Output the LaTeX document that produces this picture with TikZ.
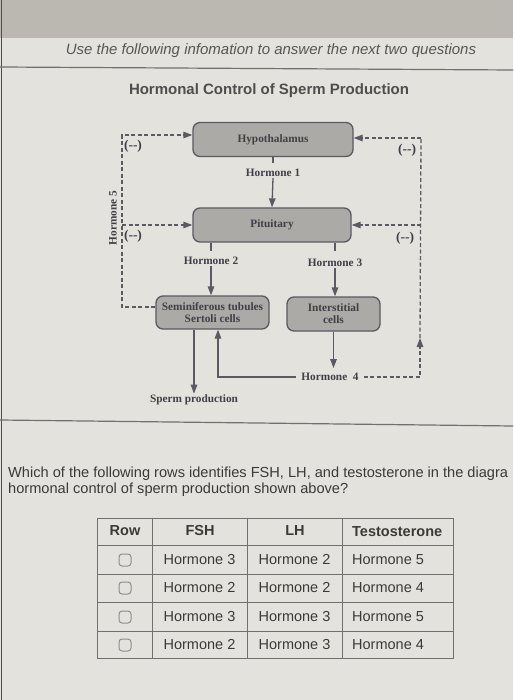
\documentclass[tikz,border=0pt]{standalone}
\usepackage{fontspec}
\setmainfont{Liberation Sans}
\newfontfamily\dfont{Liberation Serif}
\usetikzlibrary{positioning, arrows.meta}
\definecolor{bgc}{HTML}{E3E2DC}
\definecolor{topc}{HTML}{BAB8B0}
\definecolor{boxc}{HTML}{ABAAA6}
\definecolor{linec}{HTML}{5A5A62}
\definecolor{txtc}{HTML}{3F3F48}
\definecolor{inkc}{HTML}{3A3A3A}
\definecolor{gridc}{HTML}{707070}
\newcommand{\dsize}{\dfont\bfseries\fontsize{11.3}{12}\selectfont}
\newcommand{\ssize}{\fontsize{15}{16}\selectfont}
\newcommand{\tsize}{\fontsize{14.5}{16}\selectfont}
\tikzset{
  gbox/.style={draw=linec, fill=boxc, rounded corners=7pt, line width=1.3pt,
               align=center, font=\dsize, text=txtc, inner sep=2pt},
  hlbl/.style={font=\dsize, text=txtc, inner sep=1pt},
  mlbl/.style={hlbl, font=\dfont\bfseries\fontsize{13.5}{14}\selectfont},
  stub/.style={line width=1.3pt, draw=linec},
  arr/.style={-{Triangle[length=9pt,width=6.5pt]}, stub},
  fbk/.style={arr, dash pattern=on 4pt off 2.5pt},   % negative feedback
  fbkln/.style={stub, dash pattern=on 4pt off 2.5pt},
  cell/.style={font=\tsize, text=inkc, inner sep=0pt},
  chk/.style={draw=gridc!80, rounded corners=3pt, minimum size=12pt,
              line width=1pt, inner sep=0pt},
}

\begin{document}
\begin{tikzpicture}[x=1pt, y=-1pt]
  \useasboundingbox (0,0) rectangle (513,700);
  \fill[bgc] (0,0) rectangle (513,700);
  \fill[topc] (0,0) rectangle (513,38);
  \draw[gridc!70!black, line width=1.5pt] (1.5,0) -- (1.5,700);

  \node[font=\ssize\itshape, text=inkc!85] (intro) at (271,51)
    {Use the following infomation to answer the next two questions};
  \draw[gridc, line width=1.2pt] (0,67) -- (513,70);
  \node[font=\ssize\bfseries, text=inkc!90] (title) at (269,91)
    {Hormonal Control of Sperm Production};

  % glands
  \node[gbox, minimum width=160pt, minimum height=34pt] (hypo) at (273,139.5) {Hypothalamus};
  \node[gbox, minimum width=158pt, minimum height=34pt] (pit) at (272,225) {Pituitary};
  \node[gbox, minimum width=113pt, minimum height=33pt] (semi) at (212.5,312.5)
    {Seminiferous tubules\\Sertoli cells};
  \node[gbox, minimum width=93pt, minimum height=34pt] (inter) at (333.5,314)
    {Interstitial\\cells};

  % hormones
  \node[hlbl] (h1) at (273,173) {Hormone 1};
  \node[hlbl] (h2) at (211,261) {Hormone 2};
  \node[hlbl] (h3) at (335,263) {Hormone 3};
  \node[hlbl, inner sep=5pt] (h4) at (330,377) {Hormone\ \ 4};
  \node[hlbl, rotate=90] (h5) at (113,218) {Hormone 5};
  \node[hlbl] (sperm) at (194,400) {Sperm production};
  \node[mlbl] (m1) at (133,146) {(--)};
  \node[mlbl] (m2) at (133,236) {(--)};
  \node[mlbl] (m3) at (407,150) {(--)};
  \node[mlbl] (m4) at (405,238) {(--)};

  \draw[stub] (hypo.south) -- ++(0,6);
  \draw[arr] (h1.south) -- (pit.north);
  \draw[stub] (h2 |- pit.south) -- ++(0,8);
  \draw[arr] (h2.south) -- (h2 |- semi.north);
  \draw[stub] (h3 |- pit.south) -- ++(0,8);
  \draw[arr] (h3.south) -- (h3 |- inter.north);
  \draw[arr] (inter.south) -- (inter.south |- h4.north);
  \draw[arr] (h4.west) -| ([xshift=5.5pt]semi.south);
  \draw[arr] ([xshift=-18.5pt]semi.south) -- (sperm.north);

  % feedback loops
  \coordinate (ltop) at (122,135);
  \coordinate (rtop) at (421,138);
  \coordinate (rmid) at (420,338);
  \draw[fbk] ([yshift=5.5pt]semi.west) -| (ltop) -- (ltop -| hypo.west);
  \draw[fbk] (ltop |- pit.west) -- (pit.west);
  \draw[fbk] (h4.east) -| (rmid);
  \draw[fbkln] (rmid) -- (rtop);
  \draw[fbk] (rtop) -- (rtop -| hypo.east);
  \draw[fbk] (rtop |- pit.east) -- (pit.east);

  \draw[gridc, line width=1.2pt] (0,420) -- (513,426);

  \node[font=\fontsize{14.6}{16}\selectfont, text=inkc, anchor=west, align=left,
        inner sep=0pt] (quest) at (8,482)
    {Which of the following rows identifies FSH, LH, and testosterone in the diagra\\
     hormonal control of sperm production shown above?};

  % answer table
  \draw[gridc, line width=1pt] (97,518) rectangle (453,658);
  \foreach \xx in {152,247,342} \draw[gridc, line width=1pt] (\xx,518) -- (\xx,658);
  \foreach \yy in {545,574,602,631} \draw[gridc, line width=1pt] (97,\yy) -- (453,\yy);
  \node[cell, font=\tsize\bfseries] (hrow) at (125,531) {Row};
  \node[cell, font=\tsize\bfseries] (hfsh) at (200,531) {FSH};
  \node[cell, font=\tsize\bfseries] (hlh) at (295,531) {LH};
  \node[cell, font=\tsize\bfseries, anchor=west] (htes) at (352,532) {Testosterone};
  \foreach \yy/\fa/\lb/\tc [count=\i] in {560/3/2/5, 588/2/2/4, 617/3/3/5, 645/2/3/4} {
    \node[chk] (box\i) at (125,\yy) {};
    \node[cell] (fsh\i) at (199.5,\yy) {Hormone \fa};
    \node[cell] (lh\i) at (294.5,\yy) {Hormone \lb};
    \node[cell, anchor=west] (tes\i) at (352,\yy) {Hormone \tc};
  }
\end{tikzpicture}
\end{document}
